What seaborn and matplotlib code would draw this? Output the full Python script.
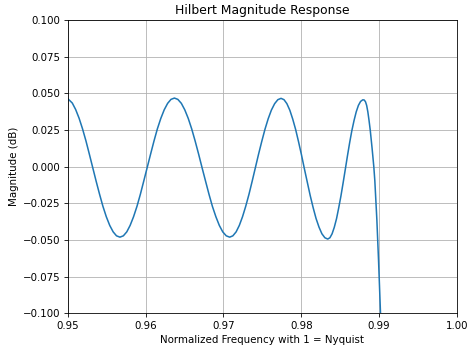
import numpy as np
import pandas as pd
import matplotlib
matplotlib.use("Agg")
import matplotlib.pyplot as plt
import seaborn as sns

# values
freq = [
    0.95000, 0.95058, 0.95101, 0.95145, 0.95189, 0.95233, 0.95276, 0.95320,
    0.95364, 0.95408, 0.95451, 0.95495, 0.95539, 0.95583, 0.95626, 0.95670,
    0.95714, 0.95758, 0.95801, 0.95845, 0.95889, 0.95933, 0.95976, 0.96020,
    0.96064, 0.96108, 0.96151, 0.96195, 0.96239, 0.96283, 0.96326, 0.96370,
    0.96414, 0.96459, 0.96503, 0.96548, 0.96592, 0.96636, 0.96681, 0.96725,
    0.96770, 0.96814, 0.96858, 0.96903, 0.96947, 0.96991, 0.97036, 0.97080,
    0.97121, 0.97163, 0.97204, 0.97245, 0.97286, 0.97328, 0.97369, 0.97410,
    0.97451, 0.97493, 0.97534, 0.97575, 0.97616, 0.97658, 0.97699, 0.97740,
    0.97778, 0.97815, 0.97853, 0.97890, 0.97928, 0.97965, 0.98003, 0.98040,
    0.98078, 0.98115, 0.98153, 0.98190, 0.98228, 0.98265, 0.98303, 0.98340,
    0.98368, 0.98396, 0.98424, 0.98453, 0.98480, 0.98509, 0.98537, 0.98565,
    0.98593, 0.98621, 0.98649, 0.98678, 0.98706, 0.98734, 0.98762, 0.98790,
    0.98808, 0.98825, 0.98840, 0.98855, 0.98870, 0.98886, 0.98910, 0.98932,
    0.98945, 0.98971, 0.98993, 0.99018, 0.99030, 0.99050,
]
mag_db = [
    0.0464, 0.0434, 0.0390, 0.0331, 0.0259, 0.0177, 0.0088, -0.0005,
    -0.0098, -0.0187, -0.0269, -0.0341, -0.0400, -0.0444, -0.0471, -0.0480,
    -0.0471, -0.0444, -0.0400, -0.0341, -0.0270, -0.0187, -0.0098, -0.0006,
    0.0086, 0.0176, 0.0258, 0.0329, 0.0388, 0.0432, 0.0459, 0.0468,
    0.0459, 0.0432, 0.0388, 0.0329, 0.0258, 0.0176, 0.0086, -0.0006,
    -0.0098, -0.0187, -0.0270, -0.0341, -0.0400, -0.0444, -0.0471, -0.0480,
    -0.0471, -0.0444, -0.0400, -0.0341, -0.0270, -0.0188, -0.0099, -0.0007,
    0.0085, 0.0174, 0.0256, 0.0327, 0.0386, 0.0430, 0.0457, 0.0466,
    0.0457, 0.0430, 0.0385, 0.0325, 0.0253, 0.0170, 0.0080, -0.0014,
    -0.0107, -0.0197, -0.0280, -0.0353, -0.0412, -0.0457, -0.0484, -0.0493,
    -0.0484, -0.0457, -0.0413, -0.0354, -0.0283, -0.0201, -0.0112, -0.0020,
    0.0073, 0.0162, 0.0244, 0.0315, 0.0374, 0.0418, 0.0445, 0.0456,
    0.0455, 0.0443, 0.0418, 0.0375, 0.0318, 0.0250, 0.0125, 0.0000,
    -0.0095, -0.0360, -0.0640, -0.1000, -0.1150, -0.1400,
]

df = pd.DataFrame({"freq": freq, "mag": mag_db})

# render at a lower dpi so text and lines shrink like the reference
dpi = 74
fig, ax = plt.subplots(figsize=(474 / dpi, 351 / dpi), dpi=dpi)
sns.lineplot(data=df, x="freq", y="mag", ax=ax, estimator=None, sort=False,
             color="#1f77b4", linewidth=1.5)
ax.set_xlim(0.95, 1.0)
ax.set_ylim(-0.1, 0.1)
ax.grid(True)
ax.set_title("Hilbert Magnitude Response")
ax.set_xlabel("Normalized Frequency with 1 = Nyquist")
ax.set_ylabel("Magnitude (dB)")
fig.subplots_adjust(left=0.143, right=0.964, top=0.943, bottom=0.107)
fig.savefig("out.png", dpi=dpi)
